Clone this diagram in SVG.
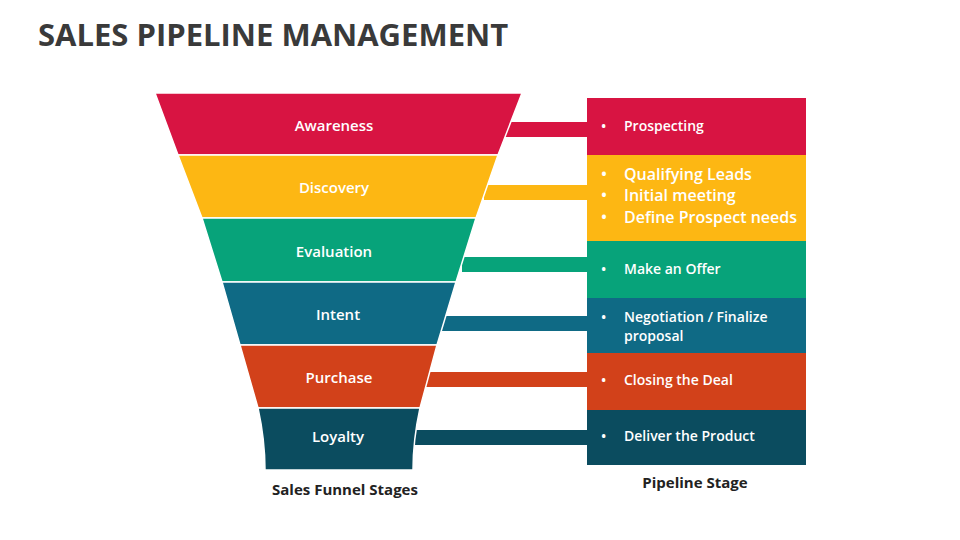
<svg xmlns="http://www.w3.org/2000/svg" width="960" height="540" viewBox="0 0 960 540">
<style>
text{font-family:"Open Sans","Liberation Sans",sans-serif}
.t{font-size:15px;font-weight:600;fill:#fff;text-anchor:middle}
.b{font-size:14px;font-weight:600;fill:#fff}
.cap{font-size:15px;font-weight:700;fill:#222;text-anchor:middle}
.s{stroke:#fff;stroke-width:1.5}
</style>
<rect width="960" height="540" fill="#fff"/>
<text x="38" y="46" style="font-size:31px;font-weight:700;fill:#3a3a3a">SALES PIPELINE MANAGEMENT</text>
<g id="connectors">
<rect x="505" y="122" width="84" height="15" fill="#D81442"/>
<rect x="484" y="185" width="105" height="15" fill="#FDB713"/>
<rect x="462" y="257" width="127" height="15" fill="#07A37A"/>
<rect x="442" y="316" width="147" height="15" fill="#0F6A85"/>
<rect x="425" y="372" width="164" height="15" fill="#D2411A"/>
<rect x="410" y="430" width="179" height="15" fill="#0B4C5F"/>
</g>
<g id="awareness"><polygon class="s" points="155,93 522,93 498,155 178,155" fill="#D81442"/><text class="t" x="334" y="131">Awareness</text></g>
<g id="discovery"><polygon class="s" points="178,155 498,155 476,218 202,218" fill="#FDB713"/><text class="t" x="334" y="193">Discovery</text></g>
<g id="evaluation"><polygon class="s" points="202,218 476,218 456,282 222,282" fill="#07A37A"/><text class="t" x="334" y="257">Evaluation</text></g>
<g id="intent"><polygon class="s" points="222,282 456,282 437,345 240,345" fill="#0F6A85"/><text class="t" x="338" y="320">Intent</text></g>
<g id="purchase"><polygon class="s" points="240,345 437,345 420,408 258,408" fill="#D2411A"/><text class="t" x="339" y="383">Purchase</text></g>
<g id="loyalty"><path class="s" d="M258,408 L420,408 Q413,440 413,470 L265,470 Q265,440 258,408 Z" fill="#0B4C5F"/><text class="t" x="338" y="442">Loyalty</text></g>
<text class="cap" x="345" y="495">Sales Funnel Stages</text>
<g id="p1"><rect x="587" y="98" width="219" height="57" fill="#D81442"/><text class="b" x="601" y="131">•</text><text class="b" x="624" y="131">Prospecting</text></g>
<g id="p2"><rect x="587" y="155" width="219" height="86" fill="#FDB713"/>
<text class="b" style="font-size:16px" x="601" y="180">•</text><text class="b" style="font-size:16px" x="624" y="180">Qualifying Leads</text>
<text class="b" style="font-size:16px" x="601" y="201">•</text><text class="b" style="font-size:16px" x="624" y="201">Initial meeting</text>
<text class="b" style="font-size:16px" x="601" y="223">•</text><text class="b" style="font-size:16px" x="624" y="223">Define Prospect needs</text></g>
<g id="p3"><rect x="587" y="241" width="219" height="57" fill="#07A37A"/><text class="b" x="601" y="274">•</text><text class="b" x="624" y="274">Make an Offer</text></g>
<g id="p4"><rect x="587" y="298" width="219" height="55" fill="#0F6A85"/><text class="b" x="601" y="322">•</text><text class="b" x="624" y="322">Negotiation / Finalize</text><text class="b" x="624" y="341">proposal</text></g>
<g id="p5"><rect x="587" y="353" width="219" height="57" fill="#D2411A"/><text class="b" x="601" y="385">•</text><text class="b" x="624" y="385">Closing the Deal</text></g>
<g id="p6"><rect x="587" y="410" width="219" height="55" fill="#0B4C5F"/><text class="b" x="601" y="441">•</text><text class="b" x="624" y="441">Deliver the Product</text></g>
<text class="cap" x="695" y="488">Pipeline Stage</text>
</svg>
